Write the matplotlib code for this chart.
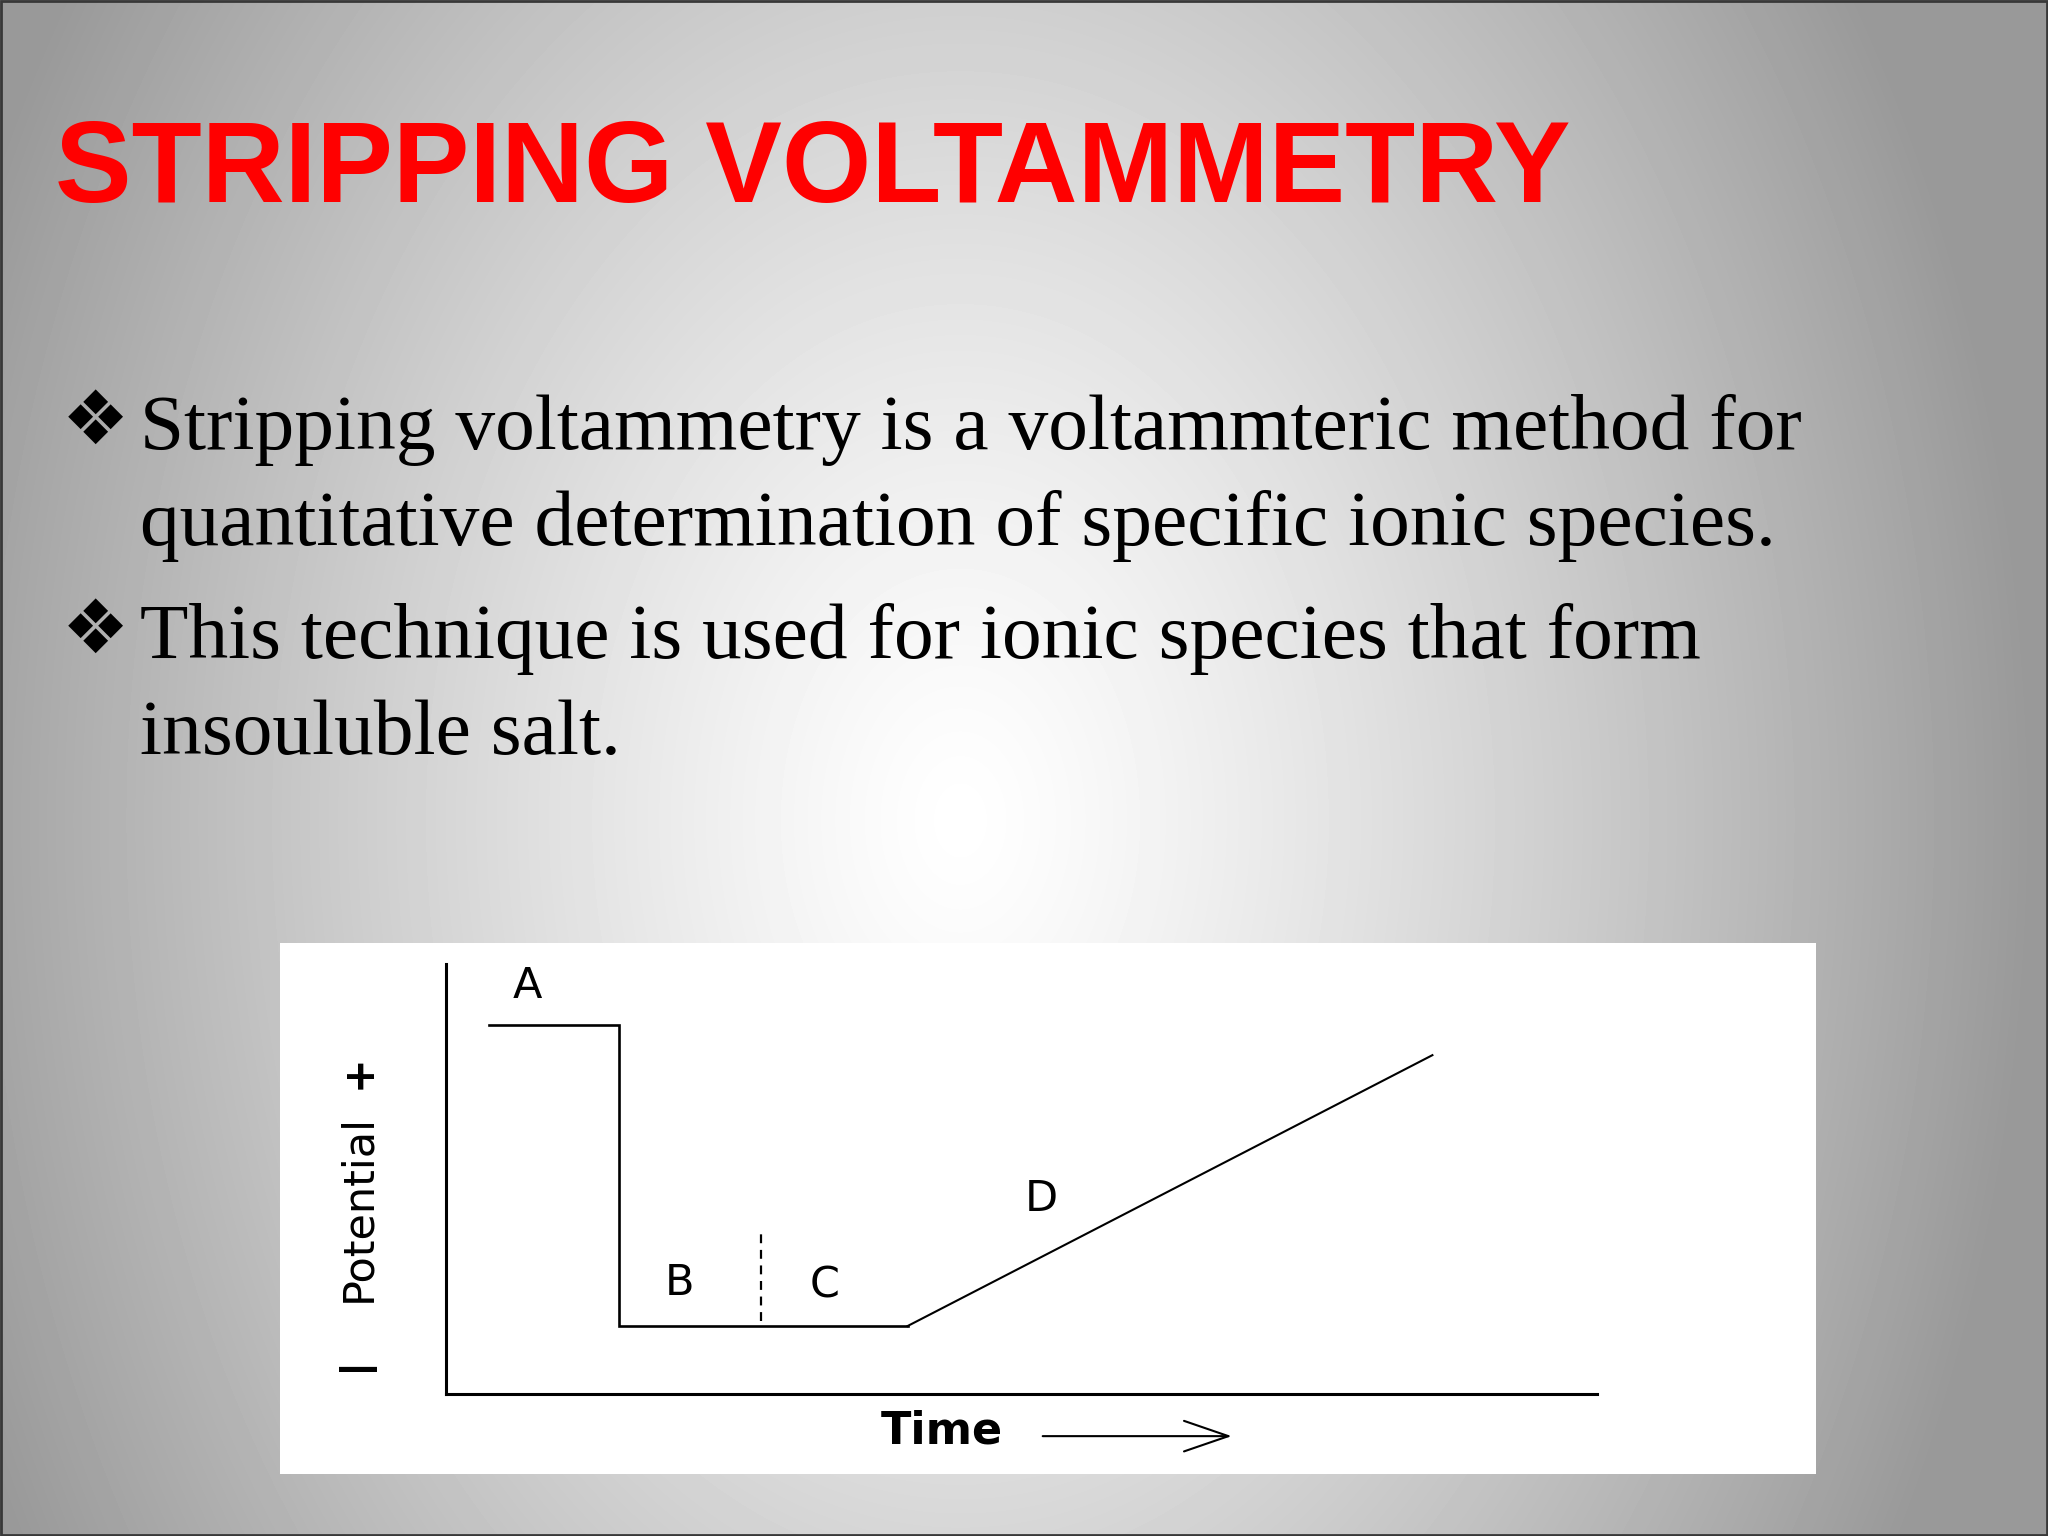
import numpy as np
import matplotlib
matplotlib.use("Agg")
import matplotlib.pyplot as plt
from matplotlib.patches import Rectangle, FancyArrowPatch

# slide text
title = "STRIPPING VOLTAMMETRY"
bullet_lines = [
    ["Stripping voltammetry is a voltammteric method for",
     "quantitative determination of specific ionic species."],
    ["This technique is used for ionic species that form",
     "insouluble salt."],
]

# diagram: potential vs time (arbitrary units, 0-100 on both axes)
time = [3.7, 15.0, 15.0, 40.1, 85.7]
potential = [85.8, 85.8, 15.8, 15.8, 78.8]
split_time = 27.4
split_span = [17.0, 37.9]
step_labels = ["A", "B", "C", "D"]
label_time = [7.1, 20.3, 32.9, 51.7]
label_potential = [94.9, 25.8, 25.3, 45.3]

W, H = 2048, 1536
fig = plt.figure(figsize=(W / 100, H / 100), dpi=100)

# background with radial grey gradient
bg = fig.add_axes([0, 0, 1, 1])
bg.set_xlim(0, W)
bg.set_ylim(H, 0)
bg.axis("off")
yy, xx = np.mgrid[0:H, 0:W]
r = np.sqrt(((xx - 960) / 1070.0) ** 2 + ((yy - 820) / 1500.0) ** 2)
shade = 1.0 - 0.40 * np.clip(r, 0, 1) ** 1.25
bg.imshow(shade, cmap="gray", vmin=0, vmax=1, extent=(0, W, H, 0),
          aspect="auto", zorder=0)
bg.add_patch(Rectangle((1, 1), W - 2, H - 2, fill=False,
                       edgecolor="#383838", linewidth=2, zorder=5))

bg.text(55, 202, title, family="Liberation Sans", weight="bold",
        fontsize=82.7, color="#ff0000", va="baseline", ha="left")

line_y = [[449, 545], [658, 754]]
for lines, ys in zip(bullet_lines, line_y):
    bg.text(62, ys[0] - 5, "\u2756", family=["DejaVu Sans"], fontsize=54,
            color="black", va="baseline", ha="left")
    for txt, y in zip(lines, ys):
        bg.text(140, y, txt, family="Liberation Serif", fontsize=57.2,
                color="black", va="baseline", ha="left")

# white panel behind the diagram
bg.add_patch(Rectangle((280, 943), 1536, 531, facecolor="white",
                       edgecolor="none", zorder=1))

ax = fig.add_axes([446 / W, 1 - 1394 / H, 1151 / W, 430 / H])
ax.set_facecolor("none")
ax.set_xlim(0, 100)
ax.set_ylim(0, 100)
for side in ["top", "right"]:
    ax.spines[side].set_visible(False)
for side in ["left", "bottom"]:
    ax.spines[side].set_linewidth(2.2)
ax.set_xticks([])
ax.set_yticks([])

ax.plot(time[:4], potential[:4], color="black", lw=1.9,
        solid_joinstyle="miter")
ax.plot(time[3:], potential[3:], color="black", lw=1.5)
ax.plot([split_time, split_time], split_span, color="black", lw=1.6,
        ls=(0, (4, 3)))
for lab, tx, py in zip(step_labels, label_time, label_potential):
    ax.text(tx, py, lab, family="DejaVu Sans", fontsize=31,
            ha="center", va="center")

ax.text(-7.6, 74.9, "+", family="DejaVu Sans", weight="bold", fontsize=30,
        rotation=90, ha="center", va="center", clip_on=False)
ax.text(-7.6, 43.3, "Potential", family="DejaVu Sans", fontsize=31,
        rotation=90, ha="center", va="center", clip_on=False)
ax.text(-7.6, 7.0, "I", family="DejaVu Sans", fontsize=37,
        rotation=90, ha="center", va="center", clip_on=False)
ax.text(43.1, -8.6, "Time", family="DejaVu Sans", weight="bold",
        fontsize=32, ha="center", va="center", clip_on=False)
arrow = FancyArrowPatch((51.6, -9.8), (68.5, -9.8),
                        arrowstyle="->,head_length=1.6,head_width=0.55",
                        mutation_scale=20, color="black", lw=1.5,
                        transform=ax.transData, clip_on=False)
ax.add_patch(arrow)

fig.savefig("out.png", dpi=100)
